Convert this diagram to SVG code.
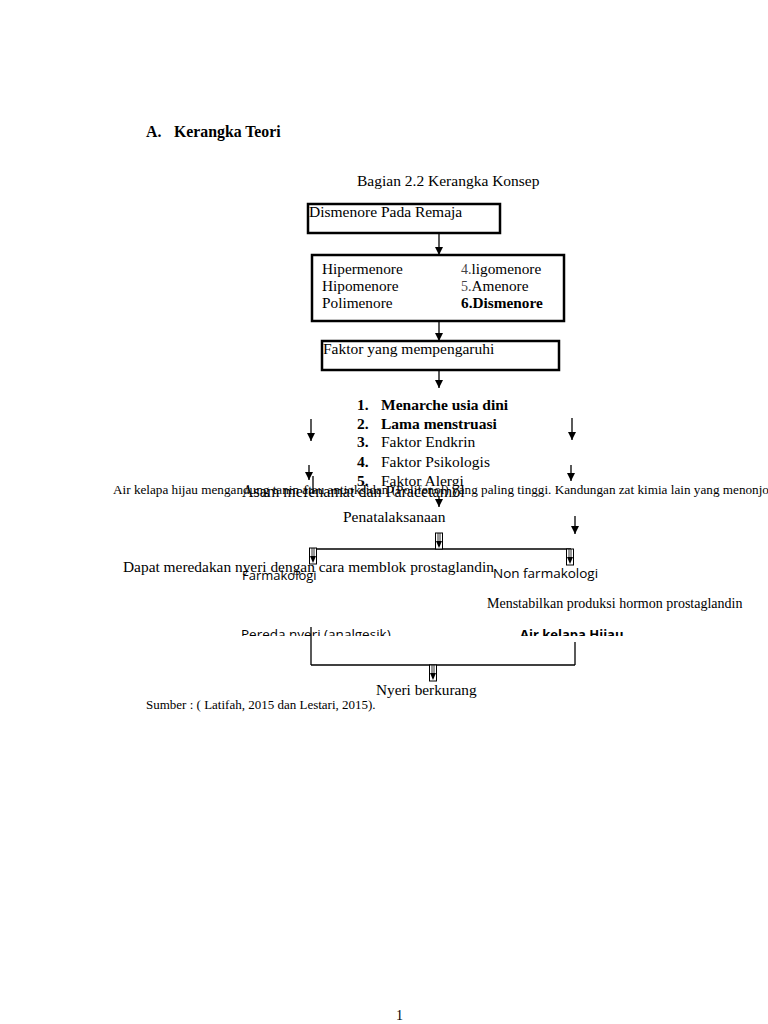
<svg xmlns="http://www.w3.org/2000/svg" width="768" height="1024" viewBox="0 0 768 1024">
<style>
.s{font-family:"Liberation Serif","DejaVu Serif",serif;fill:#000}
.ss{font-family:"Open Sans","Noto Sans",sans-serif;fill:#000}
.b{font-weight:bold}
.box{fill:none;stroke:#000;stroke-width:2.5}
.ln{stroke:#000;stroke-width:1.3;fill:none}
.ba{fill:#fff;stroke:#000;stroke-width:1}
</style>
<defs>
<marker id="ah" markerWidth="8" markerHeight="8" refX="8" refY="4" orient="auto" markerUnits="userSpaceOnUse" viewBox="0 0 8 8">
<path d="M0,0 L8,4 L0,8 Z" fill="#000"/>
</marker>
<clipPath id="cut"><rect x="0" y="600" width="768" height="36"/></clipPath>
<g id="blk"><rect class="ba" x="-3.5" y="0" width="7" height="16"/><line x1="-1" y1="0" x2="-1" y2="9" stroke="#000" stroke-width="0.8"/><line x1="1" y1="0" x2="1" y2="9" stroke="#000" stroke-width="0.8"/><path d="M-3,8 L3,8 L0,15 Z" fill="#000"/></g>
</defs>
<rect width="768" height="1024" fill="#fff"/>
<g id="title">
<text class="s b" x="146" y="137" font-size="15.8">A.</text>
<text class="s b" x="174" y="137" font-size="15.8">Kerangka Teori</text>
<text class="s" x="357" y="186" font-size="15.5">Bagian 2.2 Kerangka Konsep</text>
</g>
<g id="n1">
<rect class="box" x="308" y="204" width="192" height="29"/>
<text class="s" x="309" y="217" font-size="15.5">Dismenore Pada Remaja</text>
</g>
<g id="n2">
<rect class="box" x="312" y="255" width="252" height="66"/>
<text class="s" x="322" y="274" font-size="15.3">Hipermenore</text>
<text class="s" x="322" y="291" font-size="15.3">Hipomenore</text>
<text class="s" x="322" y="308" font-size="15.3">Polimenore</text>
<text class="s" x="461" y="274" font-size="15.3"><tspan fill="#444" font-size="14">4.</tspan>ligomenore</text>
<text class="s" x="461" y="291" font-size="15.3"><tspan fill="#444" font-size="14">5.</tspan>Amenore</text>
<text class="s b" x="461" y="308" font-size="15.3">6.Dismenore</text>
</g>
<g id="n3">
<rect class="box" x="322" y="341" width="237" height="29"/>
<text class="s" x="323" y="354" font-size="15.5">Faktor yang mempengaruhi</text>
</g>
<g id="n4">
<text class="s b" x="357" y="410" font-size="15.5">1.</text><text class="s b" x="381" y="410" font-size="15.5">Menarche usia dini</text>
<text class="s b" x="357" y="429" font-size="15.5">2.</text><text class="s b" x="381" y="429" font-size="15.5">Lama menstruasi</text>
<text class="s b" x="357" y="447" font-size="15.5">3.</text><text class="s" x="381" y="447" font-size="15.5">Faktor Endkrin</text>
<text class="s b" x="357" y="467" font-size="15.5">4.</text><text class="s" x="381" y="467" font-size="15.5">Faktor Psikologis</text>
<text class="s b" x="357" y="486" font-size="15.5">5.</text><text class="s" x="381" y="486" font-size="15.5">Faktor Alergi</text>
</g>
<g id="n5">
<text class="s" x="113" y="494" font-size="13.2">Air kelapa hijau mengandung tanin atau antioksidan (Polifenol) yang paling tinggi. Kandungan zat kimia lain yang menonjol yaitu</text>
<text class="s" x="242" y="497" font-size="16">Asam mefenamat dan Paracetamol</text>
</g>
<g id="n6"><text class="s" x="343" y="522" font-size="15.5">Penatalaksanaan</text></g>
<g id="n7">
<text class="s" x="123" y="572" font-size="15.4">Dapat meredakan nyeri dengan cara memblok prostaglandin</text>
<text class="ss" x="242" y="580" font-size="13">Farmakologi</text>
</g>
<g id="n8">
<text class="ss" x="493" y="578" font-size="13.5">Non farmakologi</text>
<text class="s" x="487" y="608" font-size="14">Menstabilkan produksi hormon prostaglandin</text>
</g>
<g id="n9" clip-path="url(#cut)">
<text class="ss" x="241" y="639" font-size="13.5">Pereda nyeri (analgesik)</text>
<text class="ss b" x="520" y="639" font-size="13">Air kelapa Hijau</text>
</g>
<g id="n10">
<text class="s" x="376" y="695" font-size="15.3">Nyeri berkurang</text>
<text class="s" x="146" y="709" font-size="13">Sumber : ( Latifah, 2015 dan Lestari, 2015).</text>
</g>
<g id="connectors">
<line class="ln" x1="439" y1="234" x2="439" y2="255" marker-end="url(#ah)"/>
<line class="ln" x1="439" y1="322" x2="439" y2="341" marker-end="url(#ah)"/>
<line class="ln" x1="439" y1="371" x2="439" y2="388" marker-end="url(#ah)"/>
<line class="ln" x1="311" y1="419" x2="311" y2="441" marker-end="url(#ah)"/>
<line class="ln" x1="572" y1="418" x2="572" y2="440" marker-end="url(#ah)"/>
<line class="ln" x1="309" y1="465" x2="309" y2="480" marker-end="url(#ah)"/>
<line class="ln" x1="313" y1="476" x2="313" y2="494"/>
<line class="ln" x1="571" y1="465" x2="571" y2="481" marker-end="url(#ah)"/>
<line class="ln" x1="439" y1="496" x2="439" y2="507" marker-end="url(#ah)"/>
<line class="ln" x1="575" y1="516" x2="575" y2="534" marker-end="url(#ah)"/>
<line class="ln" x1="313" y1="549" x2="571" y2="549"/>
<use href="#blk" x="439" y="533"/>
<use href="#blk" x="313" y="548"/>
<use href="#blk" x="570" y="549"/>
<line class="ln" x1="311" y1="627" x2="311" y2="665"/>
<line class="ln" x1="575" y1="642" x2="575" y2="665"/>
<line class="ln" x1="311" y1="665" x2="575" y2="665"/>
<use href="#blk" x="433" y="665"/>
</g>
<text class="s" x="396" y="1020" font-size="14">1</text>
</svg>
